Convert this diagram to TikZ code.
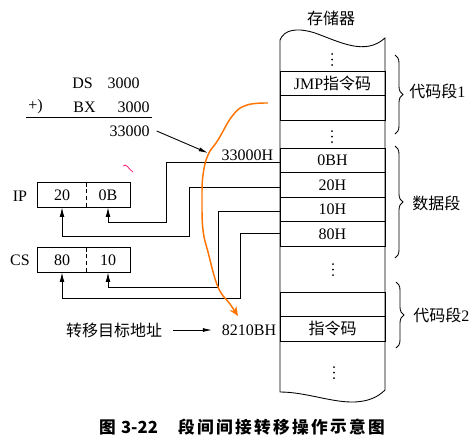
\documentclass[tikz,border=0pt]{standalone}
\usepackage{fontspec}
\setmainfont{Liberation Serif}
\newfontfamily\cjk{Noto Sans CJK SC}
\usetikzlibrary{arrows.meta,decorations.pathreplacing}
\begin{document}
\begin{tikzpicture}[x=0.75pt,y=-0.75pt,
  line width=0.65pt,
  font=\fontsize{12}{14}\selectfont,
  every node/.style={inner sep=0pt},
  memrow/.style={draw, minimum width=78.75pt, minimum height=18.375pt},
  cell/.style={minimum height=18pt},
  conn/.style={-{Latex[length=7pt,width=3.5pt]}},
  arr/.style={-{Latex[length=7pt,width=3pt]}},
  bracestyle/.style={decorate, decoration={brace, amplitude=6pt}},
  divider/.style={dash pattern=on 3pt off 2pt},
  anno/.style={draw=orange!90!red, line width=1.1pt, -{Stealth[length=7pt,width=6pt]}},
  capchar/.style={font=\fontsize{12.5}{14}\selectfont\cjk\bfseries}]
\useasboundingbox (0,0) rectangle (474,440);

% memory column
\node (memtitle) at (331,18) {\cjk 存储器};
\draw (280,392) -- (280,40) .. controls (284,30) and (296,27) .. (315,33)
      .. controls (340,42) and (365,56) .. (385,38) -- (385,390)
      .. controls (378,397) and (368,402) .. (352,402)
      .. controls (330,402) and (305,392) .. (280,392);

\node[memrow] (rjmp) at (332.5,83.25) {JMP{\cjk 指令码}};
\node[memrow] (re1)  at (332.5,107.75) {};
\node[memrow] (r0B)  at (332.5,160.25) {0BH};
\node[memrow] (r20)  at (332.5,184.75) {20H};
\node[memrow] (r10)  at (332.5,209.25) {10H};
\node[memrow] (r80)  at (332.5,233.75) {80H};
\node[memrow] (re2)  at (332.5,304.25) {};
\node[memrow] (rins) at (332.5,328.75) {\cjk 指令码};

% vertical ellipses
\foreach \x/\y in {332/54, 332/131, 333/264, 334/367}
  \foreach \k in {0,1,2}
    \fill (\x,\y+5.5*\k) circle (0.75pt);

% braces
\draw[bracestyle] (395,55) -- (395,134);
\draw[bracestyle] (395,146) -- (395,258);
\draw[bracestyle] (396,282) -- (396,348);
\node[anchor=west] (seg1) at (409,91) {{\cjk 代码段}1};
\node[anchor=west] (seg2) at (412,203) {\cjk 数据段};
\node[anchor=west] (seg3) at (413,315) {{\cjk 代码段}2};

% address sum
\node (ds)  at (82.5,83) {DS};
\node[anchor=east] (ds3) at (140,83) {3000};
\node (plus) at (35.5,107) {+)};
\node (bx)  at (84.5,107) {BX};
\node[anchor=east] (bx3) at (150,107) {3000};
\draw (26,117) -- (152,117);
\node[anchor=east] (sum) at (150,131) {33000};
\node (lab33) at (247.5,155) {33000H};
\coordinate (tip33) at (208,153);
\draw[arr] ([xshift=5pt]sum.east) -- (tip33);

% registers
\node (iplab) at (20,196) {IP};
\node[cell, minimum width=36pt] (ipH) at (62,195) {20};
\node[cell, minimum width=33pt] (ipL) at (108,195) {0B};
\draw (ipH.north west) rectangle (ipL.south east);
\draw[divider] (ipH.north east) -- (ipH.south east);

\node (cslab) at (20,260) {CS};
\node[cell, minimum width=36pt] (csH) at (62,260) {80};
\node[cell, minimum width=33pt] (csL) at (108,260) {10};
\draw (csH.north west) rectangle (csL.south east);
\draw[divider] (csH.north east) -- (csH.south east);

% connectors memory -> registers
\draw[conn] ([yshift=-2pt]r0B.west) -| (166,222) -| (ipL.south);
\draw[conn] ([yshift=-1.7pt]r20.west) -| (189,236) -| (ipH.south);
\draw[conn] ([yshift=-1.3pt]r10.west) -| (218,287) -| (csL.south);
\draw[conn] (r80.west) -| (240,298) -| (csH.south);

% target address
\node (tgtlab) at (114,330) {\cjk 转移目标地址};
\node (addr) at (249,330) {8210BH};
\draw[arr] ([xshift=8pt]tgtlab.east) -- ([xshift=-7pt]addr.west);

% caption
\node (capfig) at (107.5,427) [capchar] {图};
\node (capnum) at (139.5,427) [capchar] {3-22};
\foreach \c [count=\i] in {段,间,间,接,转,移,操,作,示,意,图}
  \node[capchar] (cap\i) at (167.5+19*\i,427) {\c};

% hand annotations
\draw[red!60!magenta, line width=0.5pt] (123,166) .. controls (126,162) and (129,170) .. (133,172);
\draw[anno] plot[smooth, tension=0.7] coordinates {(268,103) (247,105) (233,115) (218,140) (208,155) (203,175) (202,200) (203,230) (208,252) (218,287) (230,304) (238,316)};
\end{tikzpicture}
\end{document}
